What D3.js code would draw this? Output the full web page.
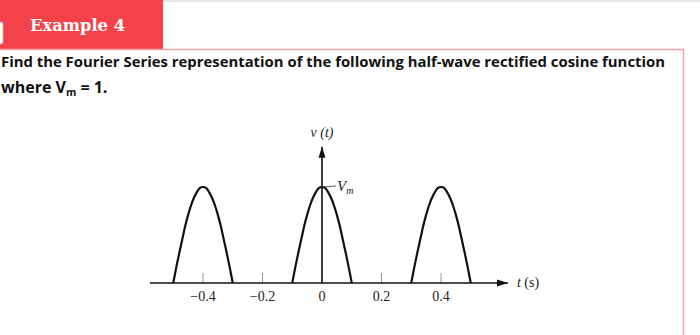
<!DOCTYPE html>
<html>
<head>
<meta charset="utf-8">
<script src="https://cdn.jsdelivr.net/npm/d3@7"></script>
<style>
  body { margin: 0; background: #fff; }
  svg { display: block; }
</style>
</head>
<body>
<svg id="chart" width="700" height="335"></svg>
<script>
// one half-cosine pulse (time offset from pulse centre, value in Vm)
const pulseT = [-0.1, -0.09, -0.08, -0.07, -0.06, -0.05, -0.04, -0.03, -0.02, -0.01, 0,
  0.01, 0.02, 0.03, 0.04, 0.05, 0.06, 0.07, 0.08, 0.09, 0.1];
const pulseV = [0, 0.16, 0.31, 0.45, 0.59, 0.71, 0.81, 0.89, 0.95, 0.99, 1,
  0.99, 0.95, 0.89, 0.81, 0.71, 0.59, 0.45, 0.31, 0.16, 0];
const pulseCenters = [-0.4, 0, 0.4];
const tickValues = [-0.4, -0.2, 0.2, 0.4];
const tickLabels = ['\u22120.4', '\u22120.2', '0', '0.2', '0.4'];
const labelValues = [-0.4, -0.2, 0, 0.2, 0.4];
const axisExtent = [-0.578, 0.625];
const yAxisTop = 1.42;

const vis = d3.select('#chart');
const serif = 'Liberation Serif, Times New Roman, serif';

// header block
vis.append('line')
  .attr('x1', 163).attr('x2', 700).attr('y1', 1).attr('y2', 1)
  .attr('stroke', '#dcdcdc').attr('stroke-width', 1.5);
vis.append('rect')
  .attr('x', 0).attr('y', 0).attr('width', 163).attr('height', 49)
  .attr('fill', '#f4424a');
vis.append('rect')
  .attr('x', -3).attr('y', 22).attr('width', 6).attr('height', 22).attr('rx', 2)
  .attr('fill', '#fff').attr('stroke', '#e8a0a4').attr('stroke-width', 0.8);
vis.append('text')
  .attr('x', 30).attr('y', 31)
  .attr('font-family', 'DejaVu Serif, serif').attr('font-weight', 'bold')
  .attr('font-size', 17.5).attr('fill', '#fff')
  .attr('textLength', 95).attr('lengthAdjust', 'spacingAndGlyphs')
  .text('Example 4');

// pink frame
vis.append('path')
  .attr('d', 'M0,49.5H683.5V335')
  .attr('fill', 'none').attr('stroke', '#e9a3aa').attr('stroke-width', 1.5);

// question text
const q = vis.append('text')
  .attr('font-family', 'Open Sans, sans-serif').attr('font-weight', 'bold')
  .attr('font-size', 15).attr('fill', '#111');
q.append('tspan').attr('x', 1).attr('y', 67)
  .attr('textLength', 664).attr('lengthAdjust', 'spacingAndGlyphs')
  .text('Find the Fourier Series representation of the following half-wave rectified cosine function');
const l2 = q.append('tspan').attr('x', 1).attr('y', 93).attr('font-size', 16);
l2.append('tspan').text('where V');
l2.append('tspan').attr('font-size', 10.5).attr('dy', 3).text('m');
l2.append('tspan').attr('dy', -3).text(' = 1.');

// scales
const xScale = d3.scaleLinear().domain([-0.4, 0.4]).range([203, 441]);
const yScale = d3.scaleLinear().domain([0, 1]).range([283, 187]);

// markers
const defs = vis.append('defs');
defs.append('marker')
  .attr('id', 'arrow').attr('viewBox', '0 0 10 10')
  .attr('refX', 10).attr('refY', 5)
  .attr('markerWidth', 11).attr('markerHeight', 11)
  .attr('markerUnits', 'userSpaceOnUse')
  .attr('orient', 'auto')
  .append('path').attr('d', 'M0,1.8L10,5L0,8.2Z').attr('fill', '#111');

// small ticks above the axis
vis.append('g').selectAll('line')
  .data(tickValues).join('line')
  .attr('x1', d => xScale(d)).attr('x2', d => xScale(d))
  .attr('y1', yScale(0)).attr('y2', yScale(0) - 10)
  .attr('stroke', '#777').attr('stroke-width', 0.8);

// tick labels
vis.append('g').selectAll('text')
  .data(labelValues).join('text')
  .attr('x', d => xScale(d)).attr('y', yScale(0) + 18)
  .attr('text-anchor', 'middle')
  .attr('font-family', serif).attr('font-size', 14)
  .attr('fill', '#222')
  .text((d, i) => tickLabels[i]);

// pulses
const lineGen = d3.line()
  .x(d => xScale(d.t))
  .y(d => yScale(d.v))
  .curve(d3.curveCardinal);

pulseCenters.forEach(c => {
  const pts = pulseT.map((t, i) => ({ t: c + t, v: pulseV[i] }));
  vis.append('path')
    .attr('d', lineGen(pts))
    .attr('fill', 'none').attr('stroke', '#111').attr('stroke-width', 2.2);
});

// t axis
vis.append('line')
  .attr('x1', xScale(axisExtent[0])).attr('x2', xScale(axisExtent[1]))
  .attr('y1', yScale(0)).attr('y2', yScale(0))
  .attr('stroke', '#111').attr('stroke-width', 1.6)
  .attr('marker-end', 'url(#arrow)');

// v axis
vis.append('line')
  .attr('x1', xScale(0)).attr('x2', xScale(0))
  .attr('y1', yScale(0)).attr('y2', yScale(yAxisTop))
  .attr('stroke', '#111').attr('stroke-width', 1.6)
  .attr('marker-end', 'url(#arrow)');

// axis labels
vis.append('text')
  .attr('x', xScale(0)).attr('y', yScale(yAxisTop) - 10)
  .attr('text-anchor', 'middle')
  .attr('font-family', serif).attr('font-style', 'italic')
  .attr('font-size', 14).attr('fill', '#222')
  .text('v (t)');

const tl = vis.append('text')
  .attr('x', xScale(axisExtent[1]) + 9).attr('y', yScale(0) + 4)
  .attr('font-family', serif)
  .attr('font-size', 14).attr('fill', '#222');
tl.append('tspan').attr('font-style', 'italic').text('t');
tl.append('tspan').text(' (s)');

// Vm label with leader
vis.append('line')
  .attr('x1', xScale(0)).attr('x2', xScale(0) + 14)
  .attr('y1', yScale(1)).attr('y2', yScale(1) - 1)
  .attr('stroke', '#333').attr('stroke-width', 0.8);
const vm = vis.append('text')
  .attr('x', xScale(0) + 15).attr('y', yScale(1) + 4)
  .attr('font-family', serif).attr('font-style', 'italic')
  .attr('font-size', 15).attr('fill', '#222');
vm.append('tspan').text('V');
vm.append('tspan').attr('font-size', 10).attr('dy', 3).text('m');
</script>
</body>
</html>
